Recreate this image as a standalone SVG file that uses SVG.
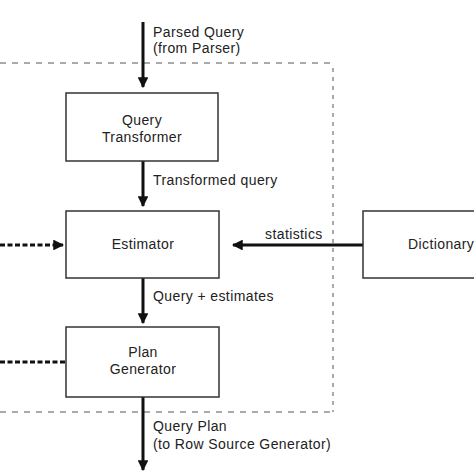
<svg xmlns="http://www.w3.org/2000/svg" width="474" height="474" viewBox="0 0 474 474">
<defs>
<style>
.box{fill:#fff;stroke:#333;stroke-width:1.5}
.t{font-family:"Liberation Sans",Arial,sans-serif;font-size:14px;letter-spacing:0.4px;fill:#222}
.c{text-anchor:middle}
.arr{stroke:#111;stroke-width:3;fill:none}
.dash{stroke:#111;stroke-width:3;fill:none;stroke-dasharray:5 2.5}
.bound{stroke:#aaa;stroke-width:2;fill:none;stroke-dasharray:6 6}
.boundv{stroke:#aaa;stroke-width:2;fill:none;stroke-dasharray:4 5}
</style>
<marker id="ah" viewBox="0 0 10 10" refX="9" refY="5" markerWidth="3.6" markerHeight="3.6" orient="auto" markerUnits="strokeWidth">
<path d="M0,0 L10,5 L0,10 z" fill="#111"/>
</marker>
</defs>
<rect width="474" height="474" fill="#fff"/>
<g id="boundary">
<path class="bound" d="M0,63 H333"/>
<path class="bound" d="M0,412 H333"/>
<path class="boundv" d="M333,68 V412"/>
</g>
<g id="connectors">
<path class="arr" d="M143,22 V87" marker-end="url(#ah)"/>
<path class="arr" d="M143,161 V206" marker-end="url(#ah)"/>
<path class="arr" d="M363,245 H233" marker-end="url(#ah)"/>
<path class="dash" d="M0,245 H63" marker-end="url(#ah)"/>
<path class="arr" d="M143,278 V323" marker-end="url(#ah)"/>
<path class="dash" d="M0,362 H66"/>
<path class="arr" d="M143,397 V470" marker-end="url(#ah)"/>
<text class="t" x="153" y="37">Parsed Query</text>
<text class="t" x="153" y="53">(from Parser)</text>
<text class="t" x="153" y="185">Transformed query</text>
<text class="t" x="265" y="239">statistics</text>
<text class="t" x="153" y="301">Query + estimates</text>
<text class="t" x="153" y="431">Query Plan</text>
<text class="t" x="153" y="449">(to Row Source Generator)</text>
</g>
<g id="query-transformer">
<rect class="box" x="66" y="93" width="152" height="68"/>
<text class="t c" x="142" y="125">Query</text>
<text class="t c" x="142" y="142">Transformer</text>
</g>
<g id="estimator">
<rect class="box" x="66" y="211" width="153" height="67"/>
<text class="t c" x="143" y="249">Estimator</text>
</g>
<g id="dictionary">
<rect class="box" x="363" y="211" width="130" height="67"/>
<text class="t" x="408" y="249">Dictionary</text>
</g>
<g id="plan-generator">
<rect class="box" x="66" y="327" width="153" height="70"/>
<text class="t c" x="143" y="357">Plan</text>
<text class="t c" x="143" y="374">Generator</text>
</g>
</svg>
